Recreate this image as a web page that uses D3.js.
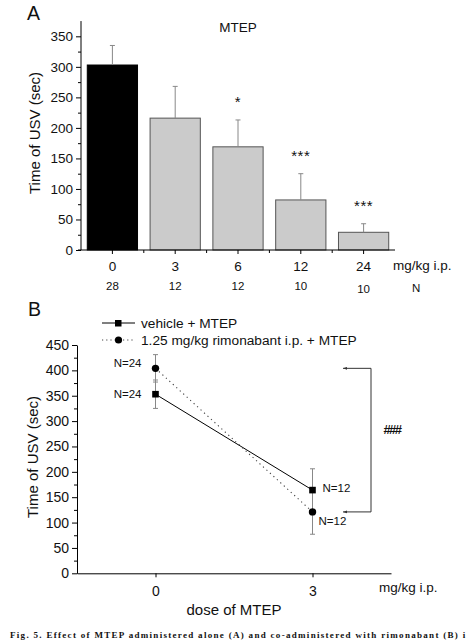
<!DOCTYPE html>
<html><head><meta charset="utf-8">
<script src="https://cdn.jsdelivr.net/npm/d3@7"></script>
<style>
html,body{margin:0;padding:0;background:#fff;overflow:hidden}
svg{display:block}
text{font-family:"Liberation Sans",Arial,sans-serif;fill:#111}
</style></head>
<body>
<script>
// ---- Panel A data ----
const dosesA = ["0","3","6","12","24"];
const meansA = [303, 216, 169, 82, 29];
const errA   = [32, 52, 44, 43, 14];
const nA     = ["28","12","12","10","10"];
const starsA = ["", "", "*", "***", "***"];
const yTicksA = [0,50,100,150,200,250,300,350];

// ---- Panel B data ----
const dosesB = [0, 3];
const vehicleB = [353, 164];
const vehicleErr = [28, 42];
const rimoB = [404, 121];
const rimoErr = [27, 44];
const nVehicle = ["N=24","N=12"];
const nRimo = ["N=24","N=12"];
const yTicksB = [0,50,100,150,200,250,300,350,400,450];
const seriesNames = ["vehicle + MTEP","1.25 mg/kg rimonabant i.p. + MTEP"];

const W=474,H=641;
const svg=d3.select("body").append("svg").attr("width",W).attr("height",H);

// ================= Panel A =================
const gA=svg.append("g");
const xA=d3.scaleBand().domain(dosesA).range([81,395]).paddingInner(0.2).paddingOuter(0.1);
const yA=d3.scaleLinear().domain([0,375]).range([250,250-375*0.6105]);

gA.append("text").attr("x",27).attr("y",20).attr("font-size",19.5).text("A");
gA.append("text").attr("x",238).attr("y",32).attr("font-size",13.5).attr("text-anchor","middle").text("MTEP");

// bars
gA.selectAll("rect.bar").data(meansA).join("rect")
  .attr("x",(d,i)=>xA(dosesA[i])).attr("width",xA.bandwidth())
  .attr("y",d=>yA(d)).attr("height",d=>yA(0)-yA(d))
  .attr("fill",(d,i)=>i===0?"#000":"#cbcbcb").attr("stroke",(d,i)=>i===0?"#000":"#555").attr("stroke-width",1);
// error bars (upper)
const eA=gA.selectAll("g.err").data(meansA).join("g").attr("stroke","#888").attr("stroke-width",1);
eA.append("line").attr("x1",(d,i)=>xA(dosesA[i])+xA.bandwidth()/2).attr("x2",(d,i)=>xA(dosesA[i])+xA.bandwidth()/2)
  .attr("y1",d=>yA(d)).attr("y2",(d,i)=>yA(d+errA[i]));
eA.append("line").attr("x1",(d,i)=>xA(dosesA[i])+xA.bandwidth()/2-2.5).attr("x2",(d,i)=>xA(dosesA[i])+xA.bandwidth()/2+2.5)
  .attr("y1",(d,i)=>yA(d+errA[i])).attr("y2",(d,i)=>yA(d+errA[i]));
// stars
gA.selectAll("text.star").data(starsA).join("text")
  .attr("x",(d,i)=>xA(dosesA[i])+xA.bandwidth()/2)
  .attr("y",(d,i)=>yA(meansA[i]+errA[i])-13)
  .attr("text-anchor","middle").attr("font-size",15).attr("letter-spacing",0.5).text(d=>d);

// y axis A
const yAxA=gA.append("g").attr("transform","translate(81,0)")
  .call(d3.axisLeft(yA).tickValues(yTicksA).tickSize(5).tickPadding(3).tickSizeOuter(0));
yAxA.select(".domain").attr("d",`M0,${yA(375)}V${yA(0)}`);
yAxA.selectAll("text").attr("font-size",13.5).style("font-family","Liberation Sans, Arial, sans-serif").attr("fill","#111");
gA.append("g").attr("transform","translate(81,0)")
  .call(d3.axisLeft(yA).tickValues(d3.range(25,375,50)).tickSize(3).tickFormat("").tickSizeOuter(0))
  .select(".domain").remove();
// x axis A
const xAxA=gA.append("g").attr("transform",`translate(0,${yA(0)})`)
  .call(d3.axisBottom(xA).tickSize(4).tickPadding(7).tickSizeOuter(0));
xAxA.select(".domain").attr("d","M78,0H395");
xAxA.selectAll("text").attr("font-size",13.5).style("font-family","Liberation Sans, Arial, sans-serif").attr("fill","#111");
// minor ticks between bands
gA.append("g").selectAll("line").data(dosesA.slice(1)).join("line")
  .attr("x1",d=>xA(d)-xA.step()*xA.paddingInner()/2).attr("x2",d=>xA(d)-xA.step()*xA.paddingInner()/2)
  .attr("y1",yA(0)).attr("y2",yA(0)+3).attr("stroke","#000");
gA.append("text").attr("x",393).attr("y",270).attr("font-size",13.5).text("mg/kg i.p.");
// N row
gA.selectAll("text.n").data(nA).join("text")
  .attr("x",(d,i)=>xA(dosesA[i])+xA.bandwidth()/2).attr("y",(d,i)=>i===4?293:290)
  .attr("text-anchor","middle").attr("font-size",11.5).text(d=>d);
gA.append("text").attr("x",412).attr("y",292).attr("font-size",11.5).text("N");
gA.append("text").attr("transform","translate(40,133) rotate(-90)").attr("text-anchor","middle").attr("font-size",15).text("Time of USV (sec)");

// ================= Panel B =================
const gB=svg.append("g");
const xB=d3.scaleLinear().domain([-1.5,4.5]).range([77,391]);
const yB=d3.scaleLinear().domain([0,450]).range([573.3,345]);

gB.append("text").attr("x",28).attr("y",316).attr("font-size",19.5).text("B");

// legend
const lg=gB.append("g");
lg.append("line").attr("x1",102).attr("x2",135).attr("y1",323).attr("y2",323).attr("stroke","#000");
lg.append("rect").attr("x",115).attr("y",320).attr("width",6.5).attr("height",6.5).attr("fill","#000");
lg.append("line").attr("x1",102).attr("x2",135).attr("y1",340).attr("y2",340).attr("stroke","#444").attr("stroke-dasharray","1.2,3");
lg.append("circle").attr("cx",118.5).attr("cy",340).attr("r",3.6).attr("fill","#000");
lg.selectAll("text").data(seriesNames).join("text").attr("x",141).attr("y",(d,i)=>328+i*17).attr("font-size",13.7).text(d=>d);

// axes
const yAxB=gB.append("g").attr("transform","translate(77,0)")
  .call(d3.axisLeft(yB).tickValues(yTicksB).tickSize(5).tickPadding(3).tickSizeOuter(0));
yAxB.selectAll("text").attr("font-size",14).style("font-family","Liberation Sans, Arial, sans-serif").attr("fill","#111");
gB.append("g").attr("transform","translate(77,0)")
  .call(d3.axisLeft(yB).tickValues(d3.range(25,450,50)).tickSize(3).tickFormat("").tickSizeOuter(0))
  .select(".domain").remove();
const xAxB=gB.append("g").attr("transform",`translate(0,${yB(0)})`)
  .call(d3.axisBottom(xB).tickValues(dosesB).tickFormat(d3.format("d")).tickSize(4).tickPadding(9).tickSizeOuter(0));
xAxB.selectAll("text").attr("font-size",14).style("font-family","Liberation Sans, Arial, sans-serif").attr("fill","#111");
gB.append("text").attr("x",379).attr("y",592).attr("font-size",13.5).text("mg/kg i.p.");
gB.append("text").attr("x",234).attr("y",615).attr("text-anchor","middle").attr("font-size",15).text("dose of MTEP");
gB.append("text").attr("transform","translate(38,457) rotate(-90)").attr("text-anchor","middle").attr("font-size",15).text("Time of USV (sec)");

// error bars
function errBars(vals,errs){
  const g=gB.append("g").attr("stroke","#888").attr("stroke-width",1);
  vals.forEach((v,i)=>{
    const x=xB(dosesB[i]);
    g.append("line").attr("x1",x).attr("x2",x).attr("y1",yB(v-errs[i])).attr("y2",yB(v+errs[i]));
    [v-errs[i],v+errs[i]].forEach(e=>g.append("line").attr("x1",x-2.5).attr("x2",x+2.5).attr("y1",yB(e)).attr("y2",yB(e)));
  });
}
errBars(vehicleB,vehicleErr);
errBars(rimoB,rimoErr);

const line=d3.line().x((d,i)=>xB(dosesB[i])).y(d=>yB(d));
gB.append("path").datum(vehicleB).attr("d",line).attr("fill","none").attr("stroke","#000").attr("stroke-width",1);
gB.append("path").datum(rimoB).attr("d",line).attr("fill","none").attr("stroke","#444").attr("stroke-width",1.1).attr("stroke-dasharray","1.2,3.5");

gB.selectAll("rect.pt").data(vehicleB).join("rect")
  .attr("x",(d,i)=>xB(dosesB[i])-3.3).attr("y",d=>yB(d)-3.3).attr("width",6.6).attr("height",6.6).attr("fill","#000");
gB.selectAll("circle.pt").data(rimoB).join("circle")
  .attr("cx",(d,i)=>xB(dosesB[i])).attr("cy",d=>yB(d)).attr("r",3.7).attr("fill","#000");

// N labels
gB.append("text").attr("x",xB(0)-14).attr("y",yB(rimoB[0])-1).attr("text-anchor","end").attr("font-size",11.5).text(nRimo[0]);
gB.append("text").attr("x",xB(0)-14).attr("y",yB(vehicleB[0])+4).attr("text-anchor","end").attr("font-size",11.5).text(nVehicle[0]);
gB.append("text").attr("x",xB(3)+10).attr("y",yB(vehicleB[1])+2).attr("font-size",11.5).text(nVehicle[1]);
gB.append("text").attr("x",xB(3)+6).attr("y",yB(rimoB[1])+13).attr("font-size",11.5).text(nRimo[1]);

// bracket with arrows
const br=gB.append("g").attr("stroke","#333").attr("fill","none");
const bx=371, yTop=yB(rimoB[0]), yBot=yB(rimoB[1]);
br.append("path").attr("d",`M343,${yTop}H${bx}V${yBot}H343`);
[yTop,yBot].forEach(y=>gB.append("path").attr("d",`M343,${y}l4,-1.3v2.6z`).attr("fill","#333"));
gB.append("text").attr("x",392).attr("y",434).attr("text-anchor","middle").attr("font-size",13).attr("font-weight","bold").attr("letter-spacing",-1.5).text("###");

// caption
svg.append("text").attr("x",10).attr("y",638).attr("font-size",9).attr("font-weight","bold")
  .style("font-family","Liberation Serif, serif").attr("letter-spacing",1.3)
  .text("Fig. 5. Effect of MTEP administered alone (A) and co-administered with rimonabant (B) i");
</script>
</body></html>
